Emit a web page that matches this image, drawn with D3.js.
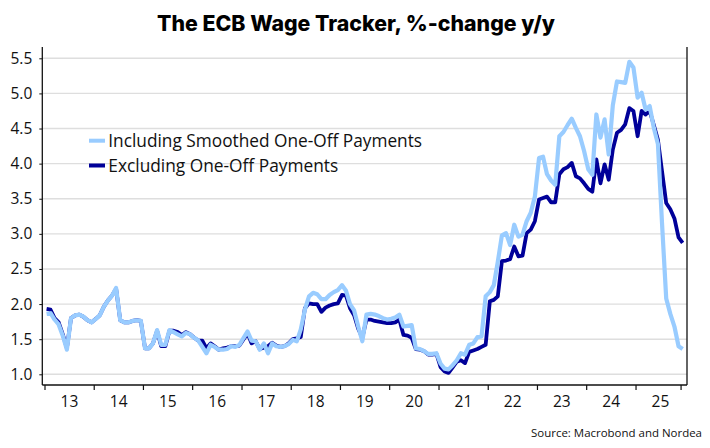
<!DOCTYPE html>
<html><head><meta charset="utf-8">
<script src="https://cdn.jsdelivr.net/npm/d3@7"></script>
<style>body{margin:0;background:#fff}svg{display:block}</style>
</head><body>
<svg id="c" width="710" height="448"></svg>
<script>
// ---- data ----
const title = "The ECB Wage Tracker, %-change y/y";
const seriesNames = ["Including Smoothed One-Off Payments", "Excluding One-Off Payments"];
const sourceText = "Source: Macrobond and Nordea";
const firstMonth = "2013-01";   // monthly observations, Jan 2013 .. Dec 2025
const lastMonth  = "2025-12";
const yearLabels = ["13","14","15","16","17","18","19","20","21","22","23","24","25"];
const yTicks = [1.0,1.5,2.0,2.5,3.0,3.5,4.0,4.5,5.0,5.5];

const inclOneOff = [
1.86,1.87,1.78,1.71,1.55,1.35,1.80,1.84,1.85,1.82,1.77,1.74,
1.79,1.84,1.96,2.05,2.12,2.23,1.77,1.74,1.74,1.76,1.77,1.76,
1.37,1.37,1.44,1.63,1.42,1.42,1.63,1.60,1.57,1.54,1.59,1.57,
1.52,1.48,1.39,1.30,1.42,1.39,1.35,1.35,1.36,1.40,1.39,1.42,
1.52,1.61,1.48,1.47,1.35,1.44,1.30,1.44,1.40,1.39,1.40,1.43,
1.49,1.47,1.64,1.92,2.11,2.16,2.14,2.07,2.07,2.13,2.17,2.20,
2.27,2.19,2.00,1.91,1.68,1.47,1.85,1.86,1.85,1.83,1.80,1.78,
1.79,1.81,1.85,1.68,1.69,1.70,1.37,1.36,1.33,1.29,1.29,1.30,
1.15,1.08,1.07,1.13,1.20,1.30,1.28,1.42,1.44,1.53,1.54,2.11,
2.17,2.27,2.60,2.98,3.01,2.84,3.13,2.96,2.99,3.18,3.30,3.53,
4.08,4.10,3.85,3.76,3.70,4.39,4.45,4.55,4.64,4.51,4.39,4.18,
3.92,3.84,4.70,4.37,4.63,4.13,4.83,5.17,5.16,5.15,5.45,5.37,
4.94,5.01,4.77,4.82,4.51,4.28,3.15,2.08,1.86,1.68,1.40,1.36];

const exclOneOff = [
1.93,1.92,1.80,1.74,1.57,1.37,1.80,1.84,1.85,1.82,1.77,1.74,
1.79,1.84,1.96,2.05,2.12,2.22,1.77,1.74,1.74,1.76,1.77,1.76,
1.37,1.37,1.44,1.62,1.40,1.40,1.62,1.62,1.60,1.56,1.60,1.57,
1.52,1.48,1.48,1.37,1.44,1.40,1.35,1.37,1.38,1.40,1.40,1.41,
1.50,1.58,1.44,1.47,1.36,1.38,1.40,1.45,1.41,1.39,1.40,1.44,
1.50,1.51,1.53,1.94,2.01,2.00,2.00,1.89,1.95,1.98,2.00,2.01,
2.13,2.12,1.94,1.84,1.65,1.52,1.78,1.78,1.76,1.75,1.74,1.73,
1.73,1.74,1.78,1.56,1.55,1.52,1.36,1.35,1.33,1.28,1.28,1.29,
1.10,1.04,1.02,1.10,1.18,1.20,1.16,1.32,1.34,1.36,1.39,1.42,
2.04,2.06,2.11,2.61,2.62,2.64,2.82,2.68,2.69,3.01,3.06,3.18,
3.49,3.51,3.53,3.45,3.45,3.85,3.92,3.95,4.01,3.82,3.79,3.72,
3.64,3.60,4.06,3.72,3.99,3.77,4.20,4.44,4.48,4.56,4.79,4.75,
4.39,4.75,4.70,4.75,4.55,4.34,3.89,3.44,3.35,3.22,2.95,2.87];

const colors = ["#99CCFF", "#000099"];

// ---- layout ----
const W = 710, H = 448;
const plot = {left: 42.3, right: 687, top: 47, bottom: 385};
const svg = d3.select("#c");
const FONT = "'Open Sans', 'Noto Sans', sans-serif";

const parseM = d3.utcParse("%Y-%m");
const months = d3.utcMonths(parseM(firstMonth), d3.utcMonth.offset(parseM(lastMonth), 1));
const midMonth = d => new Date((d.getTime() + d3.utcMonth.offset(d, 1).getTime()) / 2);

const x = d3.scaleUtc()
  .domain([new Date(Date.UTC(2013,0,1)), new Date(Date.UTC(2026,0,1))])
  .range([44.5, 684.75]);
const y = d3.scaleLinear().domain([1.0, 5.5]).range([374.3, 58.3]);

// gridlines
svg.append("g").selectAll("line").data(yTicks).join("line")
  .attr("x1", plot.left).attr("x2", plot.right)
  .attr("y1", d => y(d)).attr("y2", d => y(d))
  .attr("stroke", "#dedede").attr("stroke-width", 1.4);

// y axis
const yAxis = svg.append("g").attr("transform", `translate(${plot.left},0)`)
  .call(d3.axisLeft(y).tickValues(yTicks).tickFormat(d3.format(".1f")).tickSize(3).tickPadding(7));
yAxis.select(".domain").remove();
yAxis.selectAll("text").attr("font-family", FONT).attr("font-size", 15.5).attr("fill", "#111");
yAxis.selectAll(".tick line").attr("stroke", "#111");

// frame lines
svg.append("line").attr("x1", plot.left).attr("x2", plot.left).attr("y1", plot.top).attr("y2", plot.bottom).attr("stroke", "#111").attr("stroke-width", 1.3);
svg.append("line").attr("x1", plot.right).attr("x2", plot.right).attr("y1", plot.top).attr("y2", plot.bottom).attr("stroke", "#111").attr("stroke-width", 1.3);
svg.append("line").attr("x1", plot.left).attr("x2", plot.right).attr("y1", plot.bottom).attr("y2", plot.bottom).attr("stroke", "#111").attr("stroke-width", 1.3);

// x axis ticks (year boundaries + end of data)
const tickDates = yearLabels.map((s, i) => new Date(Date.UTC(2013 + i, 0, 1))).concat([parseM(lastMonth)]);
const xTicks = svg.append("g").attr("transform", `translate(0,${plot.bottom})`)
  .call(d3.axisBottom(x).tickValues(tickDates).tickFormat("").tickSize(5).tickSizeOuter(0));
xTicks.select(".domain").remove();
xTicks.selectAll(".tick line").attr("stroke", "#111").attr("stroke-width", 1.2);

// x labels at mid-year
const labelDates = yearLabels.map((s, i) => new Date(Date.UTC(2013 + i, 6, 1)));
const xLab = svg.append("g").attr("transform", `translate(0,${plot.bottom})`)
  .call(d3.axisBottom(x).tickValues(labelDates).tickFormat((d, i) => yearLabels[i]).tickSize(0).tickPadding(11));
xLab.select(".domain").remove();
xLab.selectAll("text").attr("font-family", FONT).attr("font-size", 15.5).attr("fill", "#111");

// lines
const line = d3.line().x(d => x(d[0])).y(d => y(d[1]));
const seriesData = [inclOneOff, exclOneOff].map(vals => months.map((m, i) => [midMonth(m), vals[i]]));
svg.append("path").datum(seriesData[1]).attr("d", line).attr("fill", "none")
  .attr("stroke", colors[1]).attr("stroke-width", 3.8).attr("stroke-linejoin", "round");
svg.append("path").datum(seriesData[0]).attr("d", line).attr("fill", "none")
  .attr("stroke", colors[0]).attr("stroke-width", 4.2).attr("stroke-linejoin", "round");

// helper to fit text width
function fit(sel, target) {
  const w = sel.node().getComputedTextLength();
  const fs = parseFloat(sel.attr("font-size"));
  sel.attr("font-size", (fs * target / w).toFixed(2));
}

// title
const t = svg.append("text").attr("x", 356).attr("y", 30.5).attr("text-anchor", "middle")
  .attr("font-family", "Inter, 'Open Sans', sans-serif").attr("font-weight", 800).attr("font-size", 21)
  .attr("fill", "#000").text(title);
fit(t, 398);

// legend
const legY = [140.7, 165.5];
const legW = [314, 230];
seriesNames.forEach((name, i) => {
  svg.append("line").attr("x1", 89).attr("x2", 105).attr("y1", legY[i]).attr("y2", legY[i])
    .attr("stroke", colors[i]).attr("stroke-width", 4);
  const lt = svg.append("text").attr("x", 108.3).attr("y", legY[i] + 6.2)
    .attr("font-family", FONT).attr("font-size", 17).attr("fill", "#111").text(name);
  fit(lt, legW[i]);
});

// source
const s = svg.append("text").attr("x", 702).attr("y", 436.5).attr("text-anchor", "end")
  .attr("font-family", FONT).attr("font-size", 12).attr("fill", "#111").text(sourceText);
fit(s, 171);
</script>
</body></html>
